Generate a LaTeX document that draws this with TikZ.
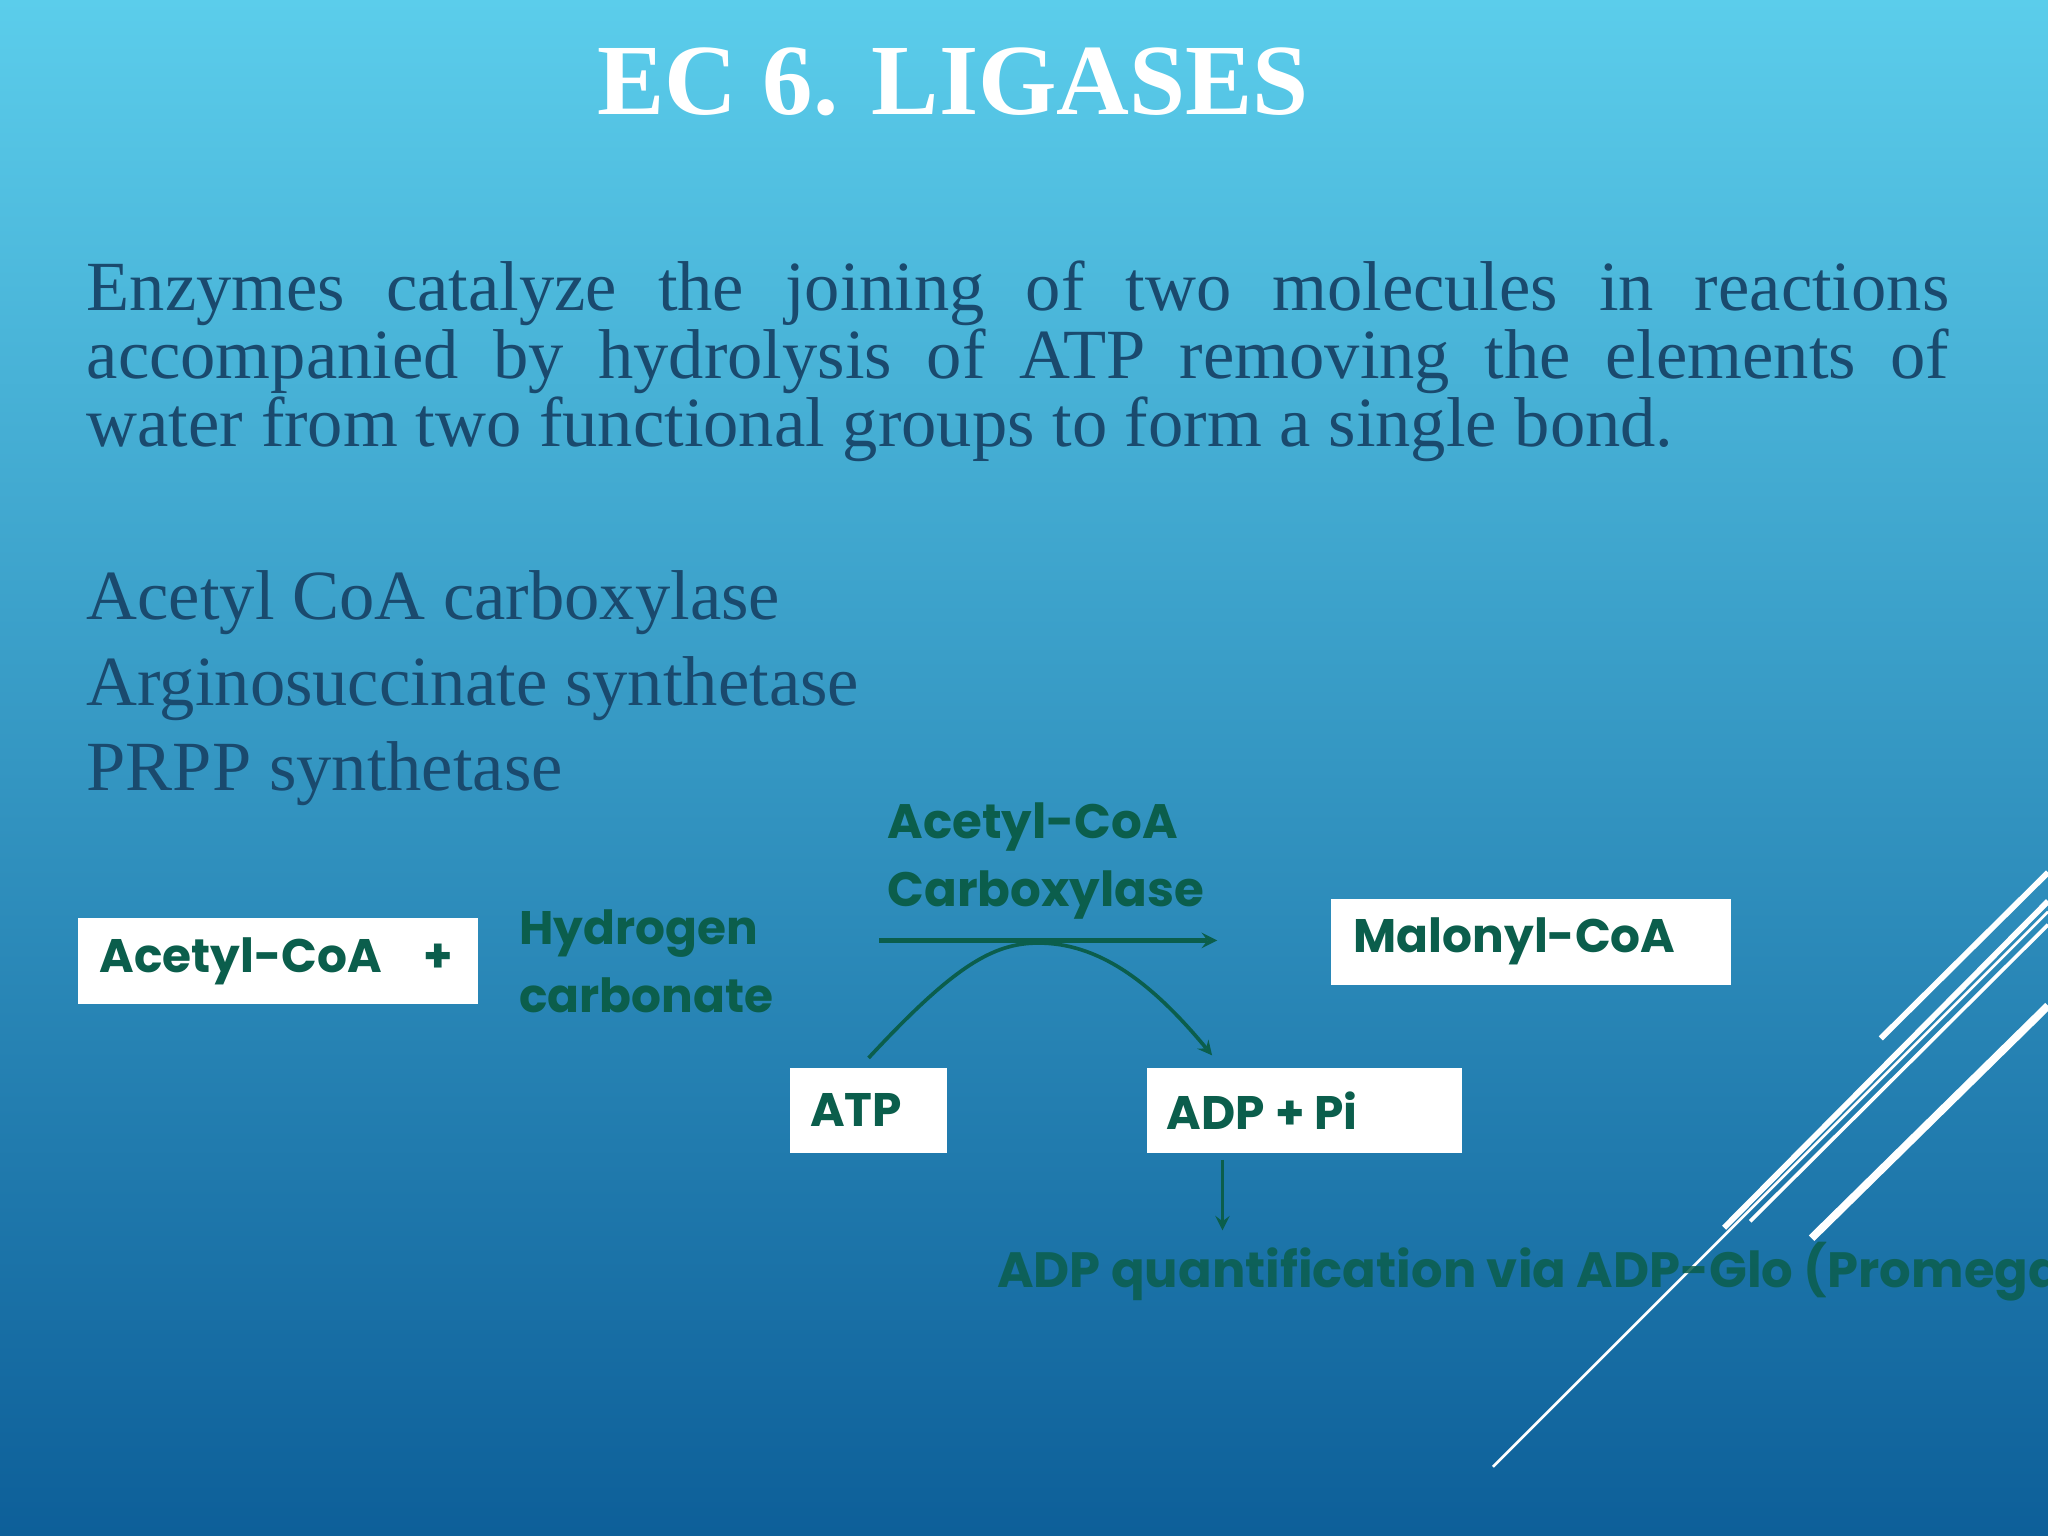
\documentclass[tikz,border=0pt]{standalone}
\usepackage{fontspec}
\setmainfont{Liberation Serif}
\newfontfamily\gfont{Poppins}
\definecolor{dgreen}{HTML}{0B5E4C}
\definecolor{bodyc}{HTML}{1A4A6E}
\definecolor{topc}{HTML}{5BCDEB}
\definecolor{botc}{HTML}{0D5F99}
\begin{document}
\begin{tikzpicture}[x=0.5pt,y=-0.5pt,
  wbox/.style={fill=white,draw=none},
  gtext/.style={text=dgreen,font=\gfont\bfseries\fontsize{18}{22}\selectfont,inner sep=0pt},
  garrow/.style={draw=dgreen,line width=1.6pt,-stealth},
  wline/.style={draw=white,line width=2.2pt},
  ptext/.style={anchor=base west,inner sep=0pt,text=bodyc,font=\fontsize{27}{30}\selectfont}]
\useasboundingbox (0,0) rectangle (1568,1176);
\clip (0,0) rectangle (1568,1176);
\shade[top color=topc,bottom color=botc] (0,0) rectangle (1568,1176);
% title
\node[text=white,font=\bfseries\fontsize{38.6}{44}\selectfont,anchor=base west,inner sep=0pt] (title) at (457,88) {EC 6. LIGASES};
% paragraph
\node[ptext] (p1) at (66,238) {\makebox[713pt][s]{Enzymes catalyze the joining of two molecules in reactions}};
\node[ptext] (p2) at (66,290) {\makebox[713pt][s]{accompanied by hydrolysis of ATP removing the elements of}};
\node[ptext] (p3) at (66,342) {water from two functional groups to form a single bond.};
\node[ptext] (e1) at (66,474) {Acetyl CoA carboxylase};
\node[ptext] (e2) at (66,540) {Arginosuccinate synthetase};
\node[ptext] (e3) at (66,605) {PRPP synthetase};
% diagonal lines
\draw[wline] (1440,795) -- (1568,668);
\draw[wline] (1320,940) -- (1568,690);
\draw[wline,line width=1.4pt] (1340,935) -- (1568,708);
\draw[wline,line width=3pt] (1387,948) -- (1568,770);
\draw[wline,line width=1pt] (1143,1123) -- (1568,698);
% boxes
\fill[wbox] (60,703) rectangle (366,769);
\fill[wbox] (1019,688) rectangle (1325,754);
\fill[wbox] (605,818) rectangle (725,883);
\fill[wbox] (878,818) rectangle (1119,883);
\node[gtext,anchor=west] (acoa) at (76,736) {Acetyl-CoA\hspace{16pt}+};
\node[gtext,anchor=west] (mcoa) at (1036,721) {Malonyl-CoA};
\node[gtext,anchor=west] (atp) at (620,850) {ATP};
\node[gtext,anchor=west] (adp) at (893,850) {ADP + Pi};
\node[gtext,anchor=west,align=left,font=\gfont\bfseries\fontsize{18}{26}\selectfont] (hc) at (397,736) {Hydrogen\\carbonate};
\node[gtext,anchor=west,align=left,font=\gfont\bfseries\fontsize{18.5}{26}\selectfont] (enz) at (679,659) {Acetyl-CoA\\Carboxylase};
\coordinate (a1) at (673,720);
\coordinate (a2) at (932,720);
\coordinate (c1) at (665,810);
\coordinate (c2) at (928,808);
\draw[garrow] (a1) -- (a2);
\draw[draw=dgreen,line width=1.4pt,-stealth] (c1) .. controls (730,740) and (760,722) .. (795,722) .. controls (840,722) and (880,750) .. (c2);
\coordinate (d1) at (936,888);
\coordinate (d2) at (936,942);
\draw[draw=dgreen,line width=1.4pt,-stealth] (d1) -- (d2);
\node[gtext,anchor=base west,opacity=0.85,font=\gfont\bfseries\fontsize{19}{22}\selectfont] (quant) at (763,986) {ADP quantification via ADP-Glo (Promega)};
\end{tikzpicture}
\end{document}
